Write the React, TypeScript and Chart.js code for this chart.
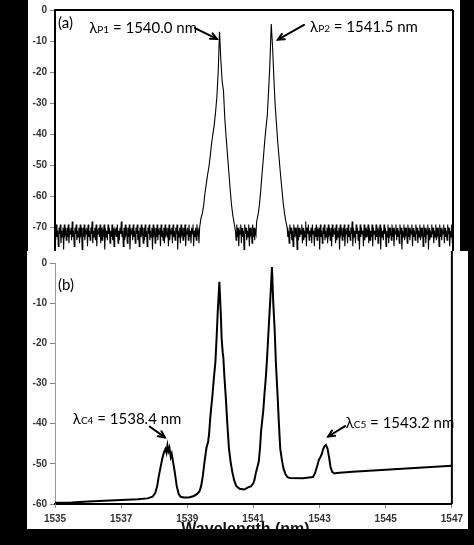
import React, { useEffect, useRef } from 'react';
import { Chart, registerables } from 'chart.js';

Chart.register(...registerables);

// ---------- axes ----------
const wavelengthMin = 1535;
const wavelengthMax = 1547;
const xTickValues = [1535, 1537, 1539, 1541, 1543, 1545, 1547];
const topYTicks = [0, -10, -20, -30, -40, -50, -60, -70];
const bottomYTicks = [0, -10, -20, -30, -40, -50, -60];
const topYMin = -77.5;
const bottomYMin = -60;

// ---------- panel (a): OSA trace, segments ----------
// noise floor sampled every 0.02 nm, peaks every 0.04 nm
const noiseStep = 0.02;
const peakStep = 0.04;

const topNoiseLeftStart = 1535.0;
const topNoiseLeft = [
  -70, -74, -69, -73, -71, -76, -70, -72, -69, -75, -71, -73, -70, -77, -69, -72, -71, -74, -70, -73,
  -69, -75, -71, -72, -70, -74, -68, -73, -71, -76, -70, -72, -69, -74, -71, -73, -70, -75, -69, -72,
  -71, -77, -70, -73, -69, -74, -71, -72, -70, -76, -69, -73, -71, -74, -70, -72, -68, -75, -71, -73,
  -70, -74, -69, -76, -71, -72, -70, -73, -69, -75, -70, -74, -71, -72, -69, -77, -70, -73, -71, -74,
  -69, -72, -70, -75, -71, -73, -69, -74, -70, -76, -71, -72, -70, -73, -69, -75, -71, -74, -70, -72,
  -68, -73, -71, -76, -70, -74, -69, -72, -71, -75, -70, -73, -69, -77, -71, -72, -70, -74, -69, -73,
  -71, -75, -70, -72, -69, -74, -71, -76, -70, -73, -69, -72, -71, -75, -70, -74, -69, -73, -71, -76,
  -70, -72, -69, -74, -71, -73, -70, -77, -69, -72, -71, -75, -70, -73, -69, -74, -71, -72, -70, -76,
  -69, -73, -71, -74, -70, -75, -69, -72, -71, -73, -70, -76, -69, -74, -71, -72, -70, -75, -69, -73,
  -71, -74, -70, -72, -69, -77, -71, -73, -70, -75, -69, -72, -71, -74, -70, -73, -69, -76, -71, -72,
  -70, -74, -69, -73, -71, -75, -70, -72, -69, -76, -71, -73, -70, -74, -69, -72, -71, -75,
];

const topPeakP1Start = 1539.36;
const topPeakP1 = [
  -70, -67, -65.5, -63, -59, -56, -53, -50.5, -47, -43, -40, -37, -33, -28,
  -20, -7, -16, -23, -26, -35, -41, -46.5, -52, -57.5, -62.5, -66, -68.5,
];

const topNoiseMidStart = 1540.44;
const topNoiseMid = [
  -71, -74, -69, -73, -70, -76, -71, -72, -69, -75, -70, -73, -71, -77, -69, -72, -70, -74, -71, -73,
  -69, -76, -70, -72, -71, -75, -69, -73, -70, -74, -71, -72,
];

const topPeakP2Start = 1541.08;
const topPeakP2 = [
  -68, -66, -63, -58.5, -53, -48, -42.5, -38, -34, -26, -17, -4.5, -12, -22,
  -31, -37, -43, -48, -53, -57.5, -62, -65.5, -68,
];

const topNoiseRightStart = 1542.0;
const topNoiseRight = [
  -70, -73, -71, -75, -69, -72, -70, -74, -71, -76, -69, -73, -70, -72, -71, -77, -69, -74, -70, -73,
  -71, -72, -69, -75, -70, -74, -71, -73, -68, -76, -70, -72, -69, -74, -71, -73, -70, -75, -69, -72,
  -71, -76, -70, -73, -69, -74, -71, -72, -70, -77, -69, -73, -71, -75, -70, -72, -69, -74, -71, -73,
  -70, -75, -69, -72, -71, -74, -70, -76, -69, -73, -71, -72, -70, -75, -69, -74, -71, -73, -70, -77,
  -69, -72, -71, -74, -70, -73, -69, -76, -71, -72, -70, -75, -69, -73, -71, -74, -70, -72, -68, -76,
  -70, -73, -71, -75, -69, -72, -70, -74, -71, -77, -69, -73, -70, -72, -71, -76, -69, -74, -70, -73,
  -71, -72, -69, -75, -70, -74, -71, -73, -69, -76, -70, -72, -71, -74, -69, -73, -70, -75, -71, -72,
  -69, -77, -70, -73, -71, -74, -69, -72, -70, -76, -71, -73, -69, -75, -70, -72, -71, -74, -69, -73,
  -70, -76, -71, -72, -69, -74, -70, -73, -71, -75, -69, -72, -70, -77, -71, -73, -69, -74, -70, -72,
  -71, -75, -69, -73, -70, -74, -71, -72, -69, -76, -70, -73, -71, -74, -69, -72, -70, -75, -71, -73,
  -69, -74, -70, -72, -71, -76, -69, -73, -70, -75, -71, -72, -69, -77, -70, -74, -71, -73, -69, -72,
  -70, -75, -71, -73, -69, -74, -70, -72, -71, -76, -69, -73, -70, -74, -71, -72, -69, -75, -70, -73,
  -71, -74, -69, -72, -70, -76, -71, -73, -69, -75, -70,
];

function segment(start: number, step: number, values: number[]) {
  return values.map((y, i) => ({ x: +(start + i * step).toFixed(3), y }));
}

const topTrace = [
  ...segment(topNoiseLeftStart, noiseStep, topNoiseLeft),
  ...segment(topPeakP1Start, peakStep, topPeakP1),
  ...segment(topNoiseMidStart, noiseStep, topNoiseMid),
  ...segment(topPeakP2Start, peakStep, topPeakP2),
  ...segment(topNoiseRightStart, noiseStep, topNoiseRight),
];

// ---------- panel (b) ----------
const bottomWavelength = [
  1535.0, 1535.5, 1536.0, 1536.5, 1537.0, 1537.5, 1537.8, 1537.95, 1538.03, 1538.09,
  1538.14, 1538.2, 1538.25, 1538.3, 1538.34, 1538.37, 1538.4, 1538.43, 1538.46, 1538.5,
  1538.53, 1538.57, 1538.62, 1538.68, 1538.74, 1538.8, 1538.9, 1539.05, 1539.2, 1539.3,
  1539.37, 1539.42, 1539.47, 1539.52, 1539.58, 1539.63, 1539.66, 1539.69, 1539.72, 1539.76,
  1539.8, 1539.85, 1539.89, 1539.92, 1539.97, 1540.01, 1540.04, 1540.07, 1540.09, 1540.12,
  1540.16, 1540.21, 1540.26, 1540.31, 1540.36, 1540.42, 1540.48, 1540.58, 1540.72, 1540.85,
  1540.93, 1541.0, 1541.03, 1541.08, 1541.12, 1541.16, 1541.2, 1541.23, 1541.26, 1541.3,
  1541.33, 1541.37, 1541.41, 1541.46, 1541.51, 1541.56, 1541.6, 1541.64, 1541.68, 1541.73,
  1541.77, 1541.81, 1541.86, 1541.91, 1541.97, 1542.03, 1542.1, 1542.5, 1542.8, 1542.86,
  1542.93, 1542.98, 1543.03, 1543.07, 1543.1, 1543.15, 1543.19, 1543.24, 1543.29, 1543.33,
  1543.38, 1543.45, 1543.51, 1544.0, 1545.0, 1546.0, 1547.0,
];
const bottomPowerDb = [
  -59.7, -59.6, -59.4, -59.2, -59.0, -58.8, -58.6, -58.2, -57.3, -55.5,
  -53, -50.5, -48.5, -47, -46.3, -47.2, -45.4, -46.8, -46, -48.3,
  -47.5, -49.5, -52, -55.5, -57.5, -58.2, -58.4, -58.4, -58.0, -57.5,
  -56.8, -55.5, -53, -49.5, -46, -44.5, -42.5, -39, -36.3, -33,
  -29, -24.6, -18, -12.2, -4.7, -12, -19, -22.2, -23.5, -28,
  -32.9, -40, -46.2, -49.5, -52, -54.2, -55.5, -56.2, -56.4, -55.8,
  -55.6, -54.8, -54.0, -52, -50.8, -49.5, -46, -42, -39.6, -36.5,
  -33, -29, -24, -16.3, -9, -1.0, -10, -16.3, -25, -32.9,
  -40, -46.2, -49, -51.2, -52.6, -53.3, -53.5, -53.6, -53.3, -52.4,
  -50.5, -49, -48.2, -47.5, -46.5, -45.6, -45.3, -46.2, -48.5, -50.8,
  -52, -52.4, -52.3, -52.0, -51.5, -51.0, -50.5,
];

// ---------- annotation texts ----------
const topTag = '(a)';
const bottomTag = '(b)';
const topLabels = [
  { sub: 'P1', rest: ' = 1540.0 nm' },
  { sub: 'P2', rest: ' = 1541.5 nm' },
];
const bottomLabels = [
  { sub: 'C4', rest: ' = 1538.4 nm' },
  { sub: 'C5', rest: ' = 1543.2 nm' },
];
const xTitle = 'Wavelength (nm)';

const textFont = 'Lato, "Noto Sans", "DejaVu Sans", sans-serif';
const tickFont = { family: '"Liberation Sans", Arial, sans-serif', weight: 'bold' as const, size: 10 };

type Placement = { x: number; y: number };
type Arrow = { from: Placement; to: Placement };

function drawLambda(ctx: CanvasRenderingContext2D, x: number, y: number, sub: string, rest: string) {
  ctx.save();
  ctx.fillStyle = '#000';
  ctx.textBaseline = 'alphabetic';
  ctx.textAlign = 'left';
  ctx.font = `15px ${textFont}`;
  ctx.fillText('λ', x, y);
  let cx = x + ctx.measureText('λ').width;
  ctx.font = `10px ${textFont}`;
  ctx.fillText(sub, cx, y);
  cx += ctx.measureText(sub).width;
  ctx.font = `15px ${textFont}`;
  ctx.fillText(rest, cx, y);
  ctx.restore();
}

function drawArrow(ctx: CanvasRenderingContext2D, x1: number, y1: number, x2: number, y2: number) {
  ctx.save();
  ctx.strokeStyle = '#000';
  ctx.lineWidth = 2;
  ctx.lineCap = 'round';
  ctx.beginPath();
  ctx.moveTo(x1, y1);
  ctx.lineTo(x2, y2);
  ctx.stroke();
  const a = Math.atan2(y2 - y1, x2 - x1);
  const L = 7;
  ctx.beginPath();
  ctx.moveTo(x2 - L * Math.cos(a - 0.45), y2 - L * Math.sin(a - 0.45));
  ctx.lineTo(x2, y2);
  ctx.lineTo(x2 - L * Math.cos(a + 0.45), y2 - L * Math.sin(a + 0.45));
  ctx.stroke();
  ctx.restore();
}

function makeFramePlugin(top: boolean) {
  return {
    id: 'frame',
    afterDatasetsDraw(chart: any) {
      const { ctx, chartArea } = chart;
      ctx.save();
      ctx.strokeStyle = '#000';
      ctx.lineWidth = 2;
      ctx.beginPath();
      if (top) {
        ctx.moveTo(chartArea.left, chartArea.top);
        ctx.lineTo(chartArea.right, chartArea.top);
      }
      ctx.moveTo(chartArea.right, top ? chartArea.top : 0);
      ctx.lineTo(chartArea.right, chartArea.bottom);
      ctx.stroke();
      ctx.restore();
    },
  };
}

function makeAnnotationPlugin(
  tag: string,
  tagPos: Placement,
  labels: { sub: string; rest: string }[],
  labelPos: Placement[],
  arrows: Arrow[],
  title?: string,
) {
  return {
    id: 'annotations',
    afterDraw(chart: any) {
      const { ctx, scales, chartArea } = chart;
      const px = (v: number) => scales.x.getPixelForValue(v);
      const py = (v: number) => scales.y.getPixelForValue(v);
      ctx.save();
      ctx.fillStyle = '#000';
      ctx.font = `15px ${textFont}`;
      ctx.textBaseline = 'alphabetic';
      ctx.fillText(tag, px(tagPos.x), py(tagPos.y));
      labels.forEach((l, i) => drawLambda(ctx, px(labelPos[i].x), py(labelPos[i].y), l.sub, l.rest));
      arrows.forEach((a) => drawArrow(ctx, px(a.from.x), py(a.from.y), px(a.to.x), py(a.to.y)));
      if (title) {
        ctx.font = `bold 16px "Liberation Sans", Arial, sans-serif`;
        ctx.textAlign = 'center';
        ctx.fillStyle = '#111';
        ctx.fillText(title, px(1540.76), chartArea.bottom + 29.5);
      }
      ctx.restore();
    },
  };
}

function yScale(min: number, ticks: number[], width: number, border: any) {
  return {
    min,
    max: 0,
    afterFit: (s: any) => {
      s.width = width;
      s.paddingTop = 0;
      s.paddingBottom = 0;
    },
    afterBuildTicks: (s: any) => {
      s.ticks = ticks.map((v) => ({ value: v }));
    },
    ticks: { font: tickFont, color: '#333', padding: 3 },
    grid: { drawOnChartArea: false, drawTicks: true, tickLength: 5, color: '#888' },
    border,
  };
}

export default function App() {
  const topRef = useRef<HTMLCanvasElement>(null);
  const bottomRef = useRef<HTMLCanvasElement>(null);

  useEffect(() => {
    const top = new Chart(topRef.current!, {
      type: 'line',
      data: {
        datasets: [
          {
            data: topTrace,
            borderColor: '#000',
            borderWidth: 1.1,
            pointRadius: 0,
            tension: 0,
          },
        ],
      },
      options: {
        animation: false,
        responsive: false,
        events: [],
        layout: { padding: { top: 10, right: 7, bottom: 0, left: 0 } },
        plugins: { legend: { display: false }, tooltip: { enabled: false } },
        scales: {
          x: { type: 'linear', min: wavelengthMin, max: wavelengthMax, display: false },
          y: yScale(topYMin, topYTicks, 27, { display: true, color: '#000', width: 2 }) as any,
        },
      },
      plugins: [
        makeFramePlugin(true),
        makeAnnotationPlugin(
          topTag,
          { x: 1535.09, y: -5.9 },
          topLabels,
          [
            { x: 1536.03, y: -7.3 },
            { x: 1542.69, y: -7.1 },
          ],
          [
            { from: { x: 1539.22, y: -5.8 }, to: { x: 1539.88, y: -9.3 } },
            { from: { x: 1542.51, y: -4.8 }, to: { x: 1541.72, y: -9.5 } },
          ],
        ),
      ],
    });

    const bottom = new Chart(bottomRef.current!, {
      type: 'line',
      data: {
        datasets: [
          {
            data: bottomWavelength.map((x, i) => ({ x, y: bottomPowerDb[i] })),
            borderColor: '#000',
            borderWidth: 2,
            pointRadius: 0,
            tension: 0,
          },
        ],
      },
      options: {
        animation: false,
        responsive: false,
        events: [],
        layout: { padding: { top: 12, right: 15, bottom: 0, left: 0 } },
        plugins: { legend: { display: false }, tooltip: { enabled: false } },
        scales: {
          x: {
            type: 'linear',
            min: wavelengthMin,
            max: wavelengthMax,
            afterFit: (s: any) => {
              s.height = 25;
            },
            afterBuildTicks: (s: any) => {
              s.ticks = xTickValues.map((v) => ({ value: v }));
            },
            ticks: {
              font: tickFont,
              color: '#333',
              padding: 5,
              maxRotation: 0,
              autoSkip: false,
              callback: (v: any) => String(v),
            },
            grid: { drawOnChartArea: false, drawTicks: true, tickLength: 4, color: '#888' },
            border: { display: true, color: '#000', width: 2 },
          },
          y: yScale(bottomYMin, bottomYTicks, 28, {
            display: true,
            color: '#999',
            width: 1,
            dash: [1, 1],
          }) as any,
        },
      },
      plugins: [
        makeFramePlugin(false),
        makeAnnotationPlugin(
          bottomTag,
          { x: 1535.09, y: -6.7 },
          bottomLabels,
          [
            { x: 1535.54, y: -40.2 },
            { x: 1543.79, y: -41.2 },
          ],
          [
            { from: { x: 1537.86, y: -40.7 }, to: { x: 1538.32, y: -43.4 } },
            { from: { x: 1543.77, y: -40.6 }, to: { x: 1543.26, y: -43.2 } },
          ],
          xTitle,
        ),
      ],
    });

    return () => {
      top.destroy();
      bottom.destroy();
    };
  }, []);

  return (
    <div
      style={{
        position: 'fixed',
        left: 0,
        top: 0,
        width: 474,
        height: 545,
        background: '#000',
        overflow: 'hidden',
      }}
    >
      <canvas
        ref={topRef}
        width={432}
        height={251}
        style={{ position: 'absolute', left: 28, top: 0, width: 432, height: 251, background: '#fff' }}
      />
      <canvas
        ref={bottomRef}
        width={441}
        height={278}
        style={{ position: 'absolute', left: 27, top: 251, width: 441, height: 278, background: '#fff' }}
      />
    </div>
  );
}
